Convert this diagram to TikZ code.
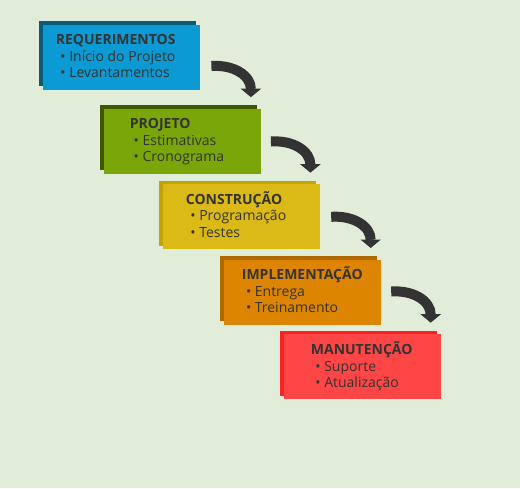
\documentclass[tikz,border=0pt]{standalone}
\usepackage{fontspec}
\setmainfont{Open Sans}
\usetikzlibrary{calc,shadows,arrows.meta}
\definecolor{bg}{HTML}{E1EDD9}
\definecolor{tc}{HTML}{333333}
\definecolor{arrc}{HTML}{333333}
\definecolor{f1}{HTML}{0B9AD3}\definecolor{s1}{HTML}{0A5A7A}
\definecolor{f2}{HTML}{7AA60A}\definecolor{s2}{HTML}{3E5800}
\definecolor{f3}{HTML}{DBB916}\definecolor{s3}{HTML}{C4A300}
\definecolor{f4}{HTML}{DD8400}\definecolor{s4}{HTML}{B06900}
\definecolor{f5}{HTML}{FF4646}\definecolor{s5}{HTML}{FF2020}
\tikzset{
  stagebox/.style 2 args={anchor=north west, inner sep=0pt, minimum width=157pt, minimum height=65pt,
    fill=#1, general shadow={fill=#2, shadow xshift=-4pt, shadow yshift=3.5pt}},
  ttl/.style={anchor=base west, inner sep=0pt, text=tc, font=\bfseries\fontsize{14}{17}\selectfont},
  itm/.style={anchor=base west, inner sep=0pt, text=tc, font=\fontsize{14}{17}\selectfont},
  flow/.style={draw=arrc, line width=10pt, -{Triangle[width=20pt,length=8.5pt]}}
}
\begin{document}
\begin{tikzpicture}[x=1pt,y=-1pt]
\fill[bg] (0,0) rectangle (520,488);
\useasboundingbox (0,0) rectangle (520,488);
% boxes
\node[stagebox={f1}{s1}] (b1) at (43,24.3) {};
\node[stagebox={f2}{s2}] (b2) at (103.5,108.5) {};
\node[stagebox={f3}{s3}] (b3) at (163,184) {};
\node[stagebox={f4}{s4}] (b4) at (223.3,259.3) {};
\node[stagebox={f5}{s5}] (b5) at (283.3,334) {};
% texts
\node[ttl] (t1) at ($(b1.north west)+(12.7,20)$) {REQUERIMENTOS};
\node[itm] (t1a) at ($(b1.north west)+(17.2,36.7)$) {•~Início do Projeto};
\node[itm] (t1b) at ($(b1.north west)+(17.2,53.4)$) {•~Levantamentos};
\node[ttl] (t2) at ($(b2.north west)+(26.2,20)$) {PROJETO};
\node[itm] (t2a) at ($(b2.north west)+(30,36.7)$) {•~Estimativas};
\node[itm] (t2b) at ($(b2.north west)+(30,53.4)$) {•~Cronograma};
\node[ttl] (t3) at ($(b3.north west)+(22.7,20)$) {CONSTRUÇÃO};
\node[itm] (t3a) at ($(b3.north west)+(27.2,36.7)$) {•~Programação};
\node[itm] (t3b) at ($(b3.north west)+(27.2,53.4)$) {•~Testes};
\node[ttl] (t4) at ($(b4.north west)+(18.4,20)$) {IMPLEMENTAÇÃO};
\node[itm] (t4a) at ($(b4.north west)+(22.5,36.7)$) {•~Entrega};
\node[itm] (t4b) at ($(b4.north west)+(22.5,53.4)$) {•~Treinamento};
\node[ttl] (t5) at ($(b5.north west)+(27.4,20.5)$) {MANUTENÇÃO};
\node[itm] (t5a) at ($(b5.north west)+(31.9,37.2)$) {•~Suporte};
\node[itm] (t5b) at ($(b5.north west)+(31.9,53.6)$) {•~Atualização};
% arrows
\foreach \n in {2,3,4,5}{
  \coordinate (s\n) at ($(b\n.north east)+(-49.5,-42.5)$);
  \coordinate (p\n) at ($(b\n.north east)+(-27,-44)$);
  \coordinate (q\n) at ($(b\n.north east)+(-10,-33)$);
  \coordinate (e\n) at ($(b\n.north east)+(-10,-11.3)$);
  \draw[flow] (s\n) .. controls (p\n) and (q\n) .. (e\n);
}
\end{tikzpicture}
\end{document}
